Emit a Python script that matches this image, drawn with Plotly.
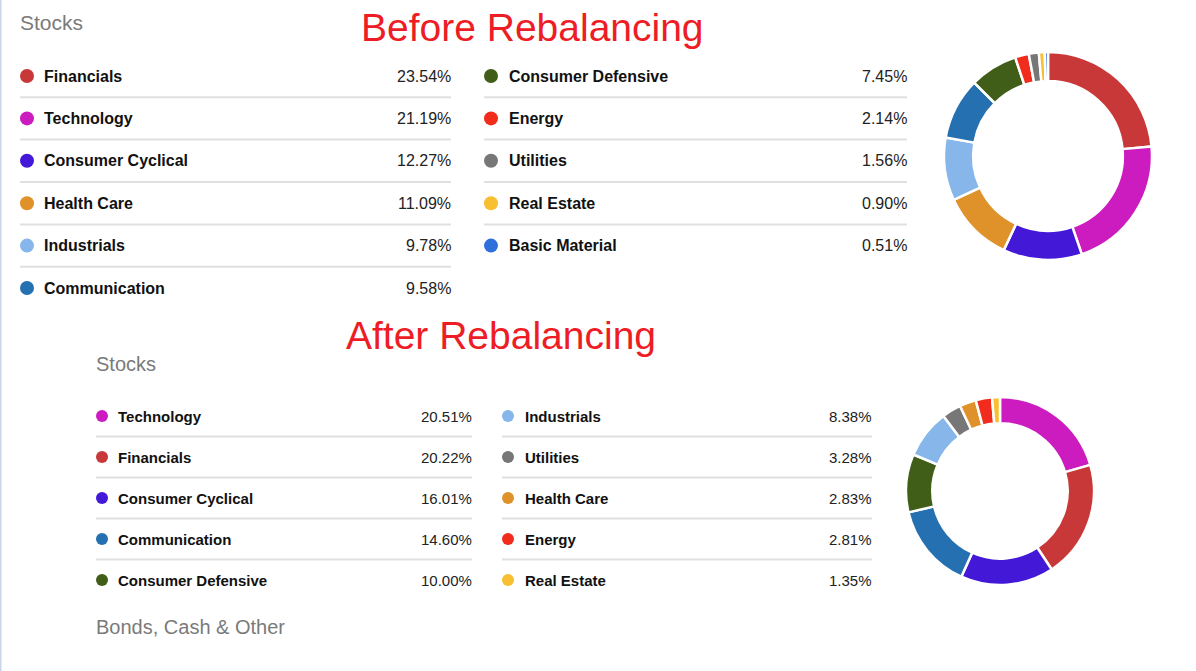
import plotly.graph_objects as go

# ---------------- data ----------------
before_sectors = ["Financials", "Technology", "Consumer Cyclical", "Health Care", "Industrials",
                  "Communication", "Consumer Defensive", "Energy", "Utilities", "Real Estate",
                  "Basic Material"]
before_values = [23.54, 21.19, 12.27, 11.09, 9.78, 9.58, 7.45, 2.14, 1.56, 0.90, 0.51]

after_sectors = ["Technology", "Financials", "Consumer Cyclical", "Communication", "Consumer Defensive",
                 "Industrials", "Utilities", "Health Care", "Energy", "Real Estate"]
after_values = [20.51, 20.22, 16.01, 14.60, 10.00, 8.38, 3.28, 2.83, 2.81, 1.35]

# ---------------- styles ----------------
COLORS = {
    "Financials": "#C93838",
    "Technology": "#CC1CBF",
    "Consumer Cyclical": "#4318D6",
    "Health Care": "#E0922A",
    "Industrials": "#86B6EA",
    "Communication": "#2470B0",
    "Consumer Defensive": "#405E18",
    "Energy": "#F22C1C",
    "Utilities": "#777777",
    "Real Estate": "#F8C030",
    "Basic Material": "#2F6FDB",
}
W, H = 1196, 671
FONT = "Liberation Sans"
TITLE_RED = "#EE1C25"
GRAY = "#7a7a7a"
SEP = "#e0e0e0"


def px_dom(x0, x1, y0, y1):
    return dict(x=[x0 / W, x1 / W], y=[1 - y1 / H, 1 - y0 / H])


fig = go.Figure()

# donuts
fig.add_trace(go.Pie(
    labels=before_sectors, values=before_values, sort=False, direction="clockwise", rotation=0,
    hole=0.72, textinfo="none", hoverinfo="label+percent", showlegend=False,
    marker=dict(colors=[COLORS[s] for s in before_sectors], line=dict(color="white", width=2.5)),
    domain=px_dom(944, 1152, 52, 260),
))
fig.add_trace(go.Pie(
    labels=after_sectors, values=after_values, sort=False, direction="clockwise", rotation=0,
    hole=0.72, textinfo="none", hoverinfo="label+percent", showlegend=False,
    marker=dict(colors=[COLORS[s] for s in after_sectors], line=dict(color="white", width=2.5)),
    domain=px_dom(906, 1094, 396, 586),
))

annotations = []
shapes = []
dot_x, dot_y, dot_c, dot_s = [], [], [], []
PAD = 2  # annotation inner padding


def table(sectors, values, n_left, y0, dy, cols, fsize, dsize):
    # cols: list of (dot_x, label_x, sep_x0, value_right_x)
    for i, (s, v) in enumerate(zip(sectors, values)):
        col = 0 if i < n_left else 1
        row = i if col == 0 else i - n_left
        n_in_col = n_left if col == 0 else len(sectors) - n_left
        dx, lx, sx0, vx = cols[col]
        y = y0 + row * dy
        dot_x.append(dx); dot_y.append(y); dot_c.append(COLORS[s]); dot_s.append(dsize)
        annotations.append(dict(x=lx - PAD, y=y, xref="x", yref="y", text="<b>%s</b>" % s, showarrow=False,
                                xanchor="left", yanchor="middle",
                                font=dict(family=FONT, size=fsize, color="#111111")))
        annotations.append(dict(x=vx + PAD, y=y, xref="x", yref="y", text="%.2f%%" % v, showarrow=False,
                                xanchor="right", yanchor="middle",
                                font=dict(family=FONT, size=fsize, color="#222222")))
        if row < n_in_col - 1:
            sy = y + dy / 2
            shapes.append(dict(type="line", xref="x", yref="y", x0=sx0, x1=vx, y0=sy, y1=sy,
                               line=dict(color=SEP, width=2)))


table(before_sectors, before_values, 6, 76, 42.4,
      [(27, 44, 20, 451), (491, 509, 484, 907)], 16, 14)
table(after_sectors, after_values, 5, 416, 41,
      [(102, 118, 96, 472), (508, 525, 502, 872)], 15, 12)

fig.add_trace(go.Scatter(x=dot_x, y=dot_y, mode="markers", hoverinfo="skip", showlegend=False,
                         marker=dict(color=dot_c, size=dot_s, opacity=1, line=dict(width=0))))

# headings
annotations += [
    dict(x=20 - PAD, y=22, text="Stocks", font=dict(family=FONT, size=21, color=GRAY)),
    dict(x=96 - PAD, y=364, text="Stocks", font=dict(family=FONT, size=20, color=GRAY)),
    dict(x=96 - PAD, y=627, text="Bonds, Cash &amp; Other", font=dict(family=FONT, size=20, color=GRAY)),
]
for a in annotations[-3:]:
    a.update(xref="x", yref="y", xanchor="left", yanchor="middle", showarrow=False)
annotations += [
    dict(x=532, y=27, xref="x", yref="y", text="Before Rebalancing", showarrow=False,
         xanchor="center", yanchor="middle", font=dict(family=FONT, size=39, color=TITLE_RED)),
    dict(x=501, y=335, xref="x", yref="y", text="After Rebalancing", showarrow=False,
         xanchor="center", yanchor="middle", font=dict(family=FONT, size=39, color=TITLE_RED)),
]

# left border line
shapes.append(dict(type="line", xref="x", yref="y", x0=0.5, x1=0.5, y0=0, y1=H,
                   line=dict(color="#c9d5e8", width=2)))

fig.update_layout(
    width=W, height=H, margin=dict(l=0, r=0, t=0, b=0),
    paper_bgcolor="white", plot_bgcolor="rgba(0,0,0,0)",
    xaxis=dict(range=[0, W], visible=False, domain=[0, 1], fixedrange=True),
    yaxis=dict(range=[H, 0], visible=False, domain=[0, 1], fixedrange=True),
    annotations=annotations, shapes=shapes,
)

fig.write_html("out.html", config={"displayModeBar": False})
